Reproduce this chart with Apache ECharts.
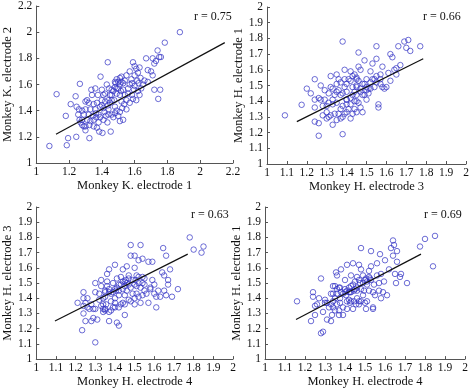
<!DOCTYPE html>
<html><head><meta charset="utf-8">
<script src="https://cdn.jsdelivr.net/npm/echarts@6/dist/echarts.min.js"></script>
<style>html,body{margin:0;padding:0;background:#fff}#c{width:474px;height:389px}</style>
</head><body><div id="c"></div>
<script>
// Panel titles / axis names
const xNames = ["Monkey K. electrode 1", "Monkey H. electrode 3", "Monkey H. electrode 4", "Monkey H. electrode 4"];
const yNames = ["Monkey K. electrode 2", "Monkey H. electrode 1", "Monkey H. electrode 3", "Monkey H. electrode 1"];
const rLabels = ["r = 0.75", "r = 0.66", "r = 0.63", "r = 0.69"];
// Axis ranges [min, max, interval]
const xRanges = [[1, 2.2, 0.2], [1, 2, 0.1], [1, 2, 0.1], [1, 2, 0.1]];
const yRanges = [[1, 2.2, 0.2], [1, 2, 0.1], [1, 2, 0.1], [1, 2, 0.1]];
// Regression line endpoints [[x1,y1],[x2,y2]]
const fitLines = [
  [[1.12, 1.22], [2.15, 1.92]],
  [[1.15, 1.27], [1.785, 1.67]],
  [[1.095, 1.25], [1.77, 1.69]],
  [[1.155, 1.26], [1.78, 1.69]]
];
// Scatter data
const panel1 = [[1.08,1.13],[1.124,1.526],[1.18,1.36],[1.186,1.136],[1.194,1.19],[1.21,1.45],[1.244,1.20],[1.24,1.51],[1.266,1.605],[1.246,1.43],[1.26,1.41],[1.256,1.37],[1.264,1.33],[1.27,1.31],[1.28,1.29],[1.29,1.28],[1.30,1.47],[1.31,1.48],[1.324,1.19],[1.336,1.56],[1.36,1.57],[1.34,1.52],[1.33,1.41],[1.32,1.37],[1.344,1.36],[1.366,1.35],[1.35,1.28],[1.37,1.27],[1.38,1.31],[1.384,1.24],[1.392,1.66],[1.40,1.48],[1.39,1.43],[1.41,1.42],[1.404,1.23],[1.434,1.31],[1.436,1.77],[1.454,1.24],[1.40,1.56],[1.42,1.53],[1.43,1.60],[1.44,1.48],[1.45,1.46],[1.46,1.52],[1.47,1.55],[1.48,1.58],[1.49,1.64],[1.50,1.62],[1.51,1.65],[1.52,1.62],[1.48,1.43],[1.49,1.40],[1.50,1.36],[1.51,1.39],[1.46,1.37],[1.44,1.41],[1.53,1.56],[1.54,1.52],[1.55,1.48],[1.52,1.47],[1.56,1.53],[1.57,1.60],[1.58,1.64],[1.59,1.77],[1.60,1.74],[1.61,1.72],[1.62,1.69],[1.63,1.73],[1.616,1.63],[1.60,1.59],[1.596,1.56],[1.61,1.48],[1.62,1.55],[1.64,1.57],[1.66,1.63],[1.67,1.80],[1.68,1.71],[1.70,1.70],[1.71,1.80],[1.72,1.76],[1.73,1.78],[1.74,1.86],[1.75,1.81],[1.76,1.81],[1.72,1.56],[1.756,1.56],[1.744,1.49],[1.71,1.67],[1.784,1.92],[1.876,2.0],[1.54,1.63],[1.55,1.41],[1.53,1.33],[1.51,1.32],[1.47,1.35],[1.424,1.36],[1.416,1.39],[1.38,1.37],[1.36,1.41],[1.35,1.45],[1.37,1.46],[1.40,1.44],[1.42,1.47],[1.436,1.44],[1.45,1.52],[1.46,1.48],[1.476,1.48],[1.49,1.53],[1.51,1.52],[1.516,1.55],[1.50,1.57],[1.484,1.61],[1.46,1.56],[1.444,1.57],[1.41,1.52],[1.376,1.52],[1.32,1.46],[1.30,1.41],[1.29,1.37],[1.28,1.40],[1.31,1.33],[1.33,1.32],[1.35,1.33],[1.364,1.38],[1.39,1.35],[1.41,1.33],[1.44,1.37],[1.48,1.38],[1.524,1.42],[1.536,1.45],[1.57,1.46],[1.584,1.52],[1.59,1.49],[1.63,1.52],[1.65,1.60],[1.68,1.62],[1.624,1.61],[1.636,1.65],[1.60,1.67],[1.57,1.70],[1.55,1.67],[1.52,1.66],[1.48,1.62],[1.51,1.60],[1.49,1.57],[1.56,1.57],[1.584,1.61],[1.53,1.61],[1.30,1.28],[1.324,1.29],[1.28,1.33],[1.30,1.25]];
const panel2 = [[1.09,1.31],[1.174,1.377],[1.20,1.48],[1.22,1.45],[1.24,1.36],[1.24,1.54],[1.24,1.27],[1.26,1.26],[1.26,1.18],[1.27,1.50],[1.27,1.41],[1.28,1.31],[1.29,1.47],[1.30,1.37],[1.30,1.33],[1.31,1.30],[1.32,1.56],[1.32,1.49],[1.33,1.41],[1.33,1.38],[1.33,1.25],[1.34,1.32],[1.35,1.57],[1.35,1.46],[1.35,1.39],[1.36,1.54],[1.37,1.44],[1.37,1.35],[1.38,1.30],[1.38,1.19],[1.38,1.78],[1.39,1.60],[1.39,1.49],[1.40,1.41],[1.40,1.33],[1.40,1.46],[1.41,1.54],[1.42,1.38],[1.42,1.59],[1.42,1.53],[1.43,1.44],[1.43,1.49],[1.44,1.35],[1.44,1.46],[1.45,1.54],[1.45,1.40],[1.45,1.50],[1.46,1.71],[1.46,1.62],[1.47,1.48],[1.47,1.60],[1.47,1.36],[1.48,1.44],[1.48,1.33],[1.49,1.51],[1.49,1.66],[1.50,1.47],[1.50,1.41],[1.50,1.54],[1.51,1.48],[1.52,1.59],[1.53,1.54],[1.53,1.64],[1.54,1.49],[1.55,1.67],[1.55,1.75],[1.55,1.56],[1.56,1.38],[1.56,1.36],[1.57,1.57],[1.57,1.51],[1.58,1.62],[1.58,1.49],[1.59,1.48],[1.60,1.49],[1.61,1.58],[1.62,1.53],[1.62,1.70],[1.63,1.68],[1.64,1.60],[1.65,1.57],[1.65,1.61],[1.66,1.75],[1.67,1.63],[1.69,1.78],[1.70,1.74],[1.71,1.79],[1.72,1.72],[1.77,1.75],[1.36,1.32],[1.35,1.28],[1.37,1.29],[1.32,1.31],[1.30,1.29],[1.28,1.37],[1.29,1.41],[1.31,1.39],[1.34,1.44],[1.36,1.47],[1.38,1.45],[1.40,1.41],[1.42,1.42],[1.44,1.40],[1.45,1.44],[1.46,1.39],[1.47,1.46],[1.49,1.44],[1.51,1.45],[1.52,1.52],[1.43,1.56],[1.44,1.57],[1.45,1.55],[1.40,1.51],[1.39,1.54],[1.37,1.52],[1.35,1.51],[1.33,1.48],[1.31,1.45],[1.26,1.42],[1.24,1.41],[1.38,1.37],[1.40,1.38],[1.41,1.35],[1.43,1.32],[1.45,1.33],[1.42,1.29],[1.39,1.32],[1.52,1.48],[1.54,1.54],[1.55,1.52],[1.57,1.54],[1.45,1.49],[1.46,1.53],[1.48,1.51],[1.50,1.49]];
const panel3 = [[1.233,1.19],[1.30,1.11],[1.21,1.37],[1.24,1.44],[1.24,1.40],[1.24,1.35],[1.24,1.30],[1.25,1.25],[1.26,1.40],[1.27,1.33],[1.28,1.25],[1.29,1.27],[1.30,1.50],[1.30,1.44],[1.30,1.33],[1.31,1.26],[1.32,1.39],[1.32,1.43],[1.33,1.52],[1.33,1.48],[1.34,1.33],[1.34,1.36],[1.35,1.45],[1.35,1.32],[1.35,1.41],[1.355,1.36],[1.36,1.56],[1.36,1.48],[1.37,1.44],[1.37,1.25],[1.37,1.59],[1.38,1.38],[1.38,1.32],[1.39,1.50],[1.39,1.44],[1.40,1.40],[1.40,1.34],[1.40,1.62],[1.41,1.53],[1.41,1.47],[1.41,1.24],[1.42,1.22],[1.42,1.49],[1.42,1.42],[1.43,1.54],[1.43,1.36],[1.44,1.46],[1.44,1.59],[1.45,1.42],[1.45,1.51],[1.45,1.29],[1.46,1.61],[1.46,1.45],[1.47,1.55],[1.47,1.39],[1.47,1.49],[1.48,1.68],[1.48,1.75],[1.49,1.52],[1.49,1.43],[1.50,1.60],[1.50,1.36],[1.50,1.68],[1.51,1.48],[1.51,1.55],[1.52,1.41],[1.52,1.50],[1.52,1.65],[1.53,1.37],[1.53,1.75],[1.54,1.66],[1.54,1.54],[1.55,1.45],[1.55,1.49],[1.56,1.43],[1.57,1.37],[1.57,1.64],[1.58,1.47],[1.59,1.52],[1.59,1.64],[1.60,1.43],[1.61,1.41],[1.61,1.34],[1.62,1.45],[1.63,1.41],[1.64,1.57],[1.65,1.45],[1.66,1.68],[1.645,1.73],[1.65,1.55],[1.67,1.49],[1.67,1.52],[1.66,1.42],[1.68,1.59],[1.69,1.41],[1.72,1.46],[1.78,1.80],[1.80,1.72],[1.84,1.70],[1.85,1.74],[1.34,1.40],[1.35,1.44],[1.36,1.51],[1.37,1.46],[1.38,1.43],[1.40,1.46],[1.405,1.45],[1.42,1.45],[1.43,1.49],[1.44,1.51],[1.45,1.48],[1.455,1.52],[1.46,1.50],[1.47,1.53],[1.48,1.47],[1.50,1.49],[1.505,1.52],[1.52,1.54],[1.53,1.47],[1.54,1.50],[1.55,1.53],[1.33,1.35],[1.34,1.31],[1.35,1.33],[1.37,1.31],[1.39,1.34],[1.40,1.37],[1.42,1.34],[1.44,1.37],[1.45,1.36],[1.48,1.38],[1.50,1.40],[1.51,1.43],[1.54,1.42],[1.58,1.46],[1.60,1.49],[1.28,1.36],[1.29,1.33],[1.26,1.34],[1.25,1.37]];
const panel4 = [[1.16,1.38],[1.23,1.25],[1.24,1.44],[1.24,1.41],[1.25,1.35],[1.25,1.29],[1.26,1.36],[1.27,1.40],[1.28,1.53],[1.28,1.17],[1.29,1.18],[1.29,1.31],[1.30,1.39],[1.30,1.37],[1.31,1.26],[1.32,1.34],[1.33,1.43],[1.33,1.25],[1.335,1.29],[1.34,1.48],[1.34,1.38],[1.35,1.32],[1.355,1.57],[1.36,1.55],[1.36,1.43],[1.37,1.29],[1.37,1.47],[1.375,1.40],[1.38,1.44],[1.38,1.59],[1.39,1.34],[1.39,1.29],[1.40,1.46],[1.40,1.52],[1.405,1.42],[1.41,1.62],[1.41,1.33],[1.42,1.44],[1.42,1.47],[1.425,1.37],[1.43,1.55],[1.43,1.44],[1.44,1.33],[1.44,1.63],[1.445,1.45],[1.45,1.51],[1.455,1.36],[1.46,1.45],[1.46,1.54],[1.47,1.36],[1.47,1.62],[1.475,1.50],[1.48,1.73],[1.48,1.59],[1.49,1.42],[1.49,1.55],[1.495,1.45],[1.50,1.52],[1.505,1.33],[1.51,1.49],[1.51,1.38],[1.52,1.58],[1.52,1.45],[1.525,1.53],[1.53,1.71],[1.53,1.61],[1.54,1.34],[1.54,1.33],[1.545,1.49],[1.55,1.42],[1.56,1.63],[1.56,1.55],[1.57,1.45],[1.57,1.50],[1.575,1.69],[1.58,1.40],[1.58,1.56],[1.59,1.44],[1.595,1.51],[1.60,1.65],[1.61,1.42],[1.62,1.59],[1.63,1.73],[1.64,1.68],[1.64,1.78],[1.645,1.75],[1.65,1.56],[1.655,1.50],[1.66,1.64],[1.66,1.71],[1.675,1.54],[1.68,1.56],[1.71,1.50],[1.775,1.74],[1.80,1.79],[1.84,1.61],[1.85,1.81],[1.36,1.36],[1.375,1.37],[1.39,1.43],[1.40,1.44],[1.41,1.45],[1.425,1.44],[1.43,1.48],[1.44,1.49],[1.45,1.46],[1.46,1.47],[1.47,1.52],[1.48,1.46],[1.49,1.50],[1.505,1.53],[1.51,1.51],[1.52,1.54],[1.53,1.52],[1.54,1.44],[1.41,1.38],[1.42,1.39],[1.43,1.38],[1.445,1.38],[1.46,1.40],[1.47,1.38],[1.48,1.38],[1.50,1.37],[1.35,1.40],[1.34,1.43],[1.36,1.46],[1.375,1.47],[1.34,1.34],[1.37,1.32],[1.31,1.37],[1.33,1.36],[1.35,1.48]];
const panels = [panel1, panel2, panel3, panel4];

const grids = [
  {left: 33, top: 5, width: 200, height: 158},
  {left: 267, top: 7, width: 199, height: 157},
  {left: 33, top: 207, width: 200, height: 153},
  {left: 265, top: 207, width: 200, height: 153}
];
const rPos = [[189, 6], [418, 6], [186, 204], [419, 204]];
const FONT = "'Liberation Serif', 'Times New Roman', serif";

const axisCommon = {
  axisLine: {show: true, lineStyle: {color: '#555', width: 1}},
  axisTick: {show: true, inside: true, length: 3, lineStyle: {color: '#555'}},
  splitLine: {show: false},
  axisLabel: {color: '#111', fontFamily: FONT, fontSize: 11.5},
  nameLocation: 'middle',
  nameTextStyle: {color: '#111', fontFamily: FONT, fontSize: 12.5}
};

const xAxis = [], yAxis = [], series = [], title = [];
for (let i = 0; i < 4; i++) {
  xAxis.push(Object.assign({}, axisCommon, {
    gridIndex: i, type: 'value', min: xRanges[i][0], max: xRanges[i][1], interval: xRanges[i][2],
    name: xNames[i], nameGap: 15,
    axisLabel: Object.assign({}, axisCommon.axisLabel, {margin: 3})
  }));
  yAxis.push(Object.assign({}, axisCommon, {
    gridIndex: i, type: 'value', min: yRanges[i][0], max: yRanges[i][1], interval: yRanges[i][2],
    name: yNames[i], nameGap: 19,
    axisLabel: Object.assign({}, axisCommon.axisLabel, {margin: 4})
  }));
  series.push({
    type: 'scatter', xAxisIndex: i, yAxisIndex: i, data: panels[i],
    symbol: 'circle', symbolSize: 5.5,
    itemStyle: {color: 'rgba(0,0,0,0)', borderColor: '#3434c4', borderWidth: 0.9},
    silent: true, animation: false
  });
  series.push({
    type: 'line', xAxisIndex: i, yAxisIndex: i, data: fitLines[i],
    symbol: 'none', lineStyle: {color: '#111', width: 1.2}, silent: true, animation: false
  });
  title.push({
    text: rLabels[i], left: rPos[i][0], top: rPos[i][1],
    textStyle: {fontFamily: FONT, fontSize: 12, fontWeight: 'normal', color: '#111'}
  });
}

const chart = echarts.init(document.getElementById('c'), null, {renderer: 'canvas'});
chart.setOption({
  backgroundColor: '#fff',
  animation: false,
  title: title,
  grid: grids,
  xAxis: xAxis,
  yAxis: yAxis,
  series: series
});
</script>
</body></html>
